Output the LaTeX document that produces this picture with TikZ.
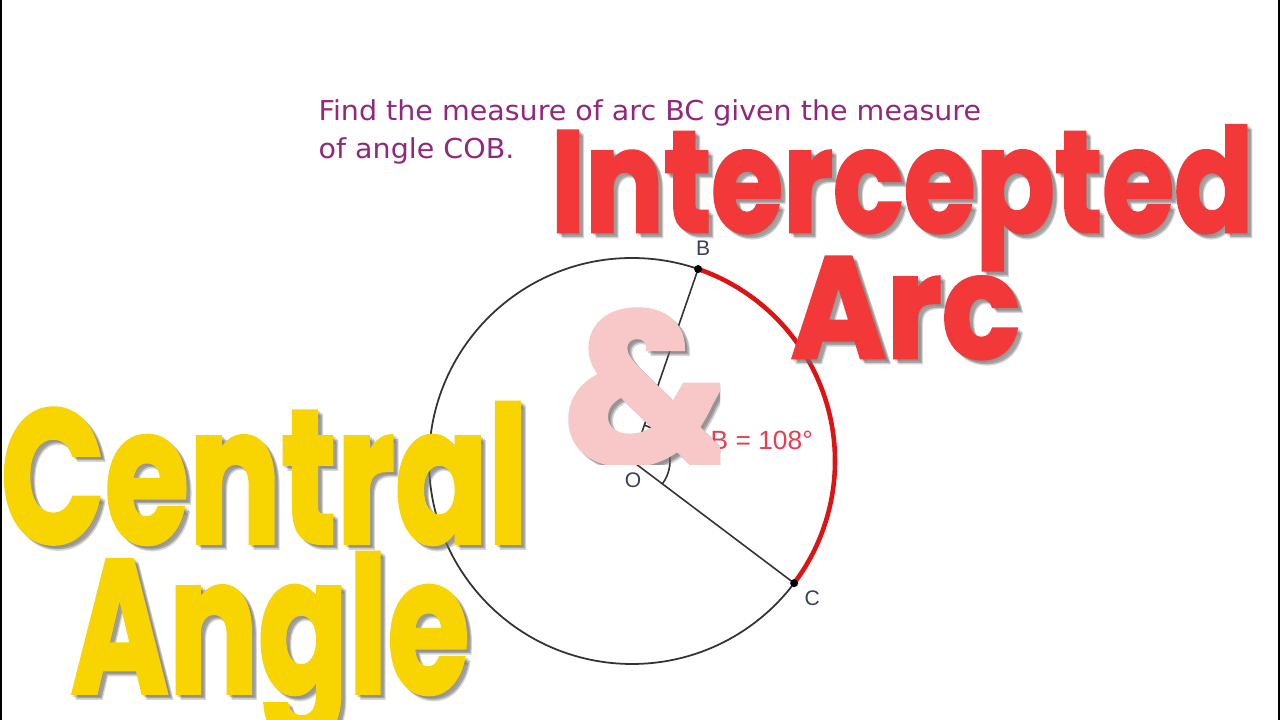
\documentclass[tikz,border=0pt]{standalone}
\usepackage{fontspec}
\setmainfont{Liberation Sans}
\newfontfamily\notefont{DejaVu Sans}
\newfontfamily\fatfont{Poppins}[BoldFeatures={FakeBold=2}]
\definecolor{notepurple}{RGB}{145,40,125}
\definecolor{titlered}{RGB}{242,56,56}
\definecolor{titleyellow}{RGB}{248,212,0}
\definecolor{ampink}{RGB}{248,200,200}
\definecolor{anglered}{RGB}{232,60,80}
\definecolor{arcred}{RGB}{222,20,20}
\definecolor{ptlabel}{RGB}{55,65,90}
\definecolor{shadowgray}{RGB}{110,110,110}
\tikzset{
  pt/.style={circle, fill=black, inner sep=0pt, minimum size=0.08cm},
  ptname/.style={text=ptlabel, font=\fontsize{6}{7}\selectfont, inner sep=0pt},
  bigword/.style={anchor=base west, inner sep=0pt, font=\fatfont\bfseries\fontsize{#1}{#1}\selectfont},
  blur/.style={text=shadowgray, opacity=0.28},
}
\begin{document}
\begin{tikzpicture}
        \useasboundingbox (0,0) rectangle (12.8,7.2);
        \fill[white] (0,0) rectangle (12.8,7.2);
        \draw[line width=0.6pt] (0.01,0) -- (0.01,7.2);
        \draw[line width=0.6pt] (12.79,0) -- (12.79,7.2);

        % circle with centre O
        \coordinate (O) at (6.32,2.59);
        \path (O) ++(71:2.03) coordinate (B);
        \path (O) ++(-37:2.03) coordinate (C);
        \draw[black!80, line width=0.5pt] (O) circle[radius=2.03];
        \draw[black!80, line width=0.45pt] (O) -- (B);
        \draw[black!80, line width=0.45pt] (O) -- (C);
        \draw[black!80, line width=0.45pt] (O) ++(-37:0.38) arc[start angle=-37, end angle=71, radius=0.38];
        \draw[arcred, line width=1.3pt] (B) arc[start angle=71, end angle=-37, radius=2.03];
        \node[pt] (Bpt) at (B) {};
        \node[pt] (Cpt) at (C) {};
        \node[ptname] (Bname) at ([shift={(0.05,0.21)}]B) {B};
        \node[ptname] (Cname) at ([shift={(0.18,-0.15)}]C) {C};
        \node[ptname] (Oname) at ([shift={(0.01,-0.19)}]O) {O};
        \node[anchor=base west, text=anglered, font=\fontsize{7.5}{9}\selectfont, inner sep=0pt] (mcob) at (7.10,2.70) {B = 108°};

        \node[anchor=base west, align=left, text=notepurple, font=\notefont\fontsize{7.8}{11}\selectfont, inner sep=0pt] (task) at (3.18,5.61)
            {\scalebox{1.04}[1]{Find the measure of arc BC given the measure}\\\scalebox{1.04}[1]{of angle COB.}};

        % titles, each with a soft grey shadow
        \foreach \dx/\dy in {0.02/-0.02, 0.04/-0.035, 0.05/-0.05} {
            \node[bigword=41, blur] at (5.50+\dx,4.88+\dy) {\scalebox{0.81}[1]{Intercepted}};
            \node[bigword=41, blur] at (7.90+\dx,3.62+\dy) {\scalebox{0.9}[1]{Arc}};
        }
        \node[bigword=41, text=titlered] (intercepted) at (5.50,4.88) {\scalebox{0.81}[1]{Intercepted}};
        \node[bigword=41, text=titlered] (arc) at (7.90,3.62) {\scalebox{0.9}[1]{Arc}};

        \begin{scope}
            \clip (5.55,2.55) rectangle (7.20,6.0);
            \foreach \dx/\dy in {0.02/-0.02, 0.04/-0.035, 0.05/-0.05}
                \node[bigword=61, blur] at (5.62+\dx,2.57+\dy) {\&};
            \node[bigword=61, text=ampink] (amp) at (5.62,2.57) {\&};
        \end{scope}

        \foreach \dx/\dy in {0.02/-0.02, 0.04/-0.035, 0.05/-0.05} {
            \node[bigword=54, blur] at (0.0+\dx,1.77+\dy) {\scalebox{0.72}[1]{Central}};
            \node[bigword=54, blur] at (0.70+\dx,0.27+\dy) {\scalebox{0.70}[1]{Angle}};
        }
        \node[bigword=54, text=titleyellow] (central) at (0.0,1.77) {\scalebox{0.72}[1]{Central}};
        \node[bigword=54, text=titleyellow] (angle) at (0.70,0.27) {\scalebox{0.70}[1]{Angle}};
    \end{tikzpicture}
\end{document}
